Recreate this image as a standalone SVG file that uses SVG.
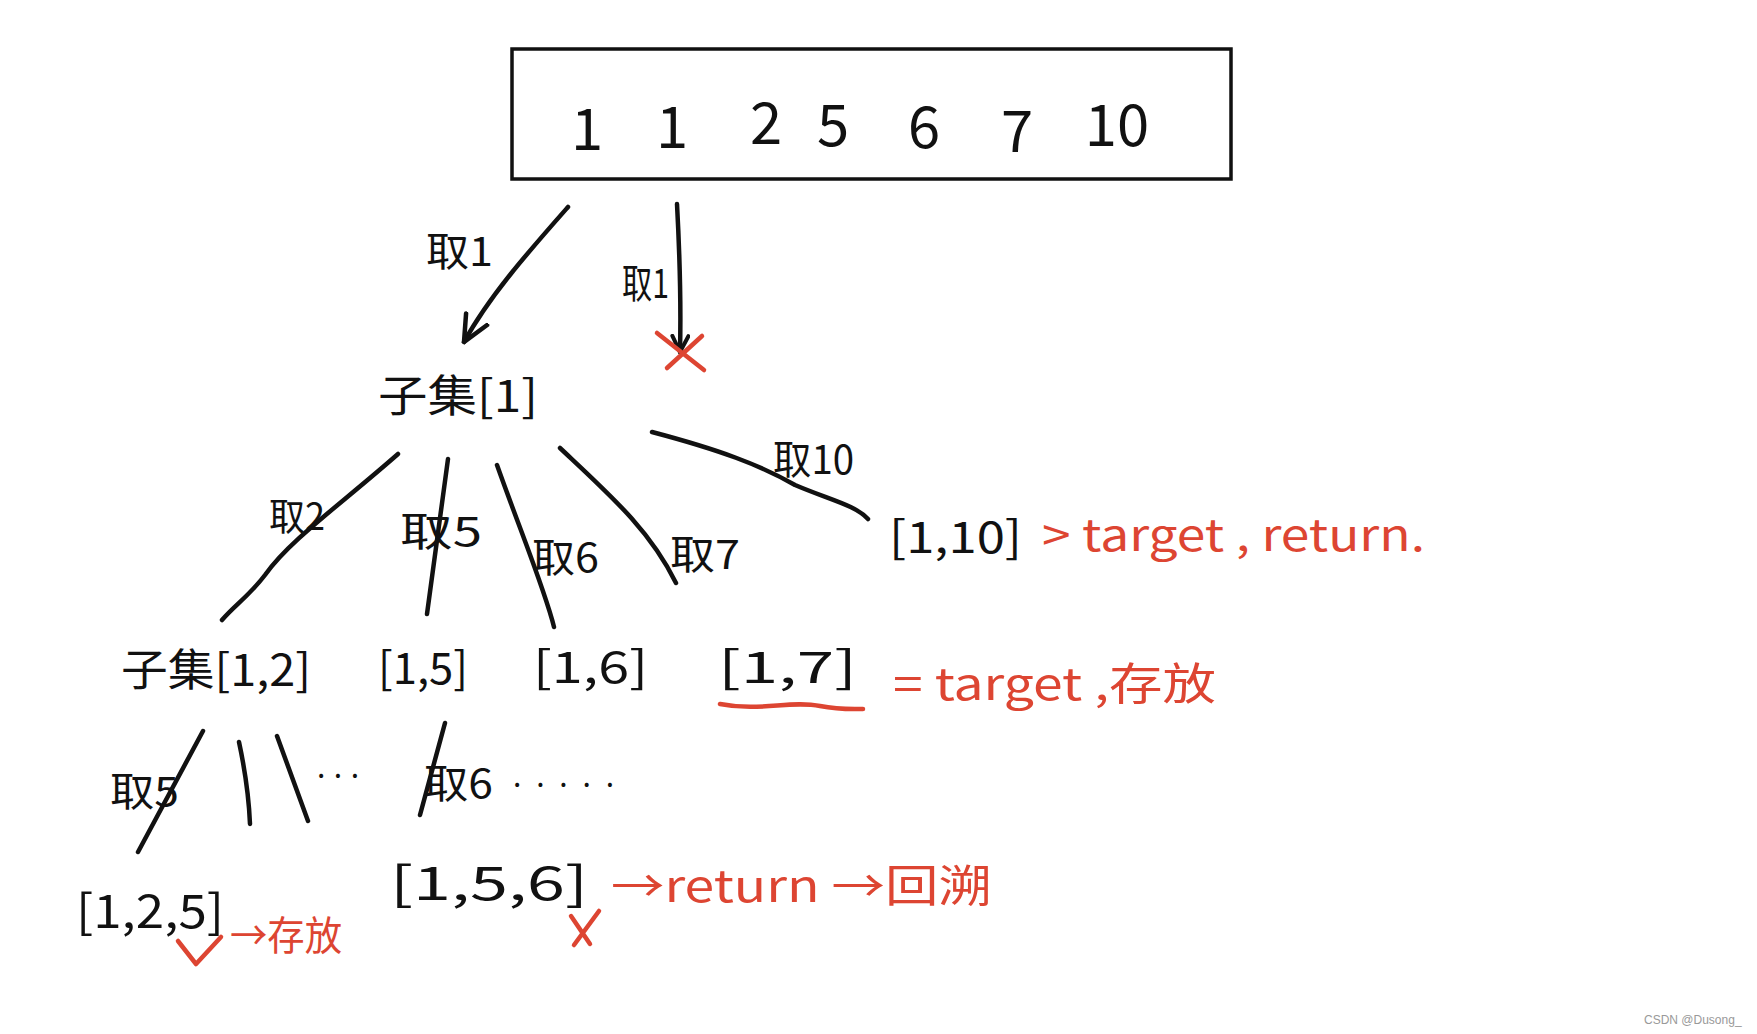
<svg xmlns="http://www.w3.org/2000/svg" width="1757" height="1034" viewBox="0 0 1757 1034">
<style>
.t{font-family:"Noto Sans CJK SC","Noto Sans",sans-serif;fill:#111;}
.r{font-family:"Noto Sans CJK SC","Noto Sans",sans-serif;fill:#dd4532;}
.ln{fill:none;stroke:#111;stroke-width:4.5;stroke-linecap:round;stroke-linejoin:round;}
.rl{fill:none;stroke:#dd4532;stroke-width:4.5;stroke-linecap:round;stroke-linejoin:round;}
.lab{font-size:40px;}
.nd{font-size:44px;}
</style>
<defs>
<marker id="ah" viewBox="0 0 20 20" refX="18" refY="10" markerWidth="20" markerHeight="20" markerUnits="userSpaceOnUse" orient="auto">
<path d="M2,2 L18,10 L2,18" fill="none" stroke="#111" stroke-width="4" stroke-linecap="round"/>
</marker>
<marker id="ah2" viewBox="0 0 30 30" refX="28" refY="15" markerWidth="30" markerHeight="30" markerUnits="userSpaceOnUse" orient="auto">
<path d="M2,3 L28,15 L2,27" fill="none" stroke="#111" stroke-width="4.5" stroke-linecap="round"/>
</marker>
</defs>
<rect width="1757" height="1034" fill="#fff"/>

<g id="array">
<rect x="512" y="49" width="719" height="130" fill="none" stroke="#111" stroke-width="3.5"/>
<g class="t" font-size="58" text-anchor="middle">
<text x="587" y="150">1</text>
<text x="672" y="148">1</text>
<text x="766" y="144">2</text>
<text x="833" y="146">5</text>
<text x="924" y="148">6</text>
<text x="1017" y="152">7</text>
<text x="1117" y="146">10</text>
</g>
</g>

<g id="connectors">
<path class="ln" d="M568,207 C530,250 490,295 464,342" marker-end="url(#ah2)"/>
<path class="ln" d="M677,204 C680,260 681,310 680,352" marker-end="url(#ah)"/>
<path class="ln" d="M398,454 C340,505 290,540 265,575 C250,595 235,605 222,620"/>
<path class="ln" d="M448,459 L427,614"/>
<path class="ln" d="M497,465 C520,530 545,590 554,627"/>
<path class="ln" d="M560,448 C610,495 650,530 676,583"/>
<path class="ln" d="M652,432 C720,450 760,465 795,485 C830,500 855,505 868,519"/>
<path class="ln" d="M203,731 L138,852"/>
<path class="ln" d="M239,742 C245,770 249,800 250,824"/>
<path class="ln" d="M277,736 L308,821"/>
<path class="ln" d="M445,723 L420,815"/>
</g>

<g id="labels">
<text class="t lab" x="426" y="266" textLength="67" lengthAdjust="spacingAndGlyphs">取1</text>
<text class="t lab" x="622" y="298" textLength="47" lengthAdjust="spacingAndGlyphs">取1</text>
<text class="t" font-size="38" x="269" y="530" textLength="56" lengthAdjust="spacingAndGlyphs">取2</text>
<text class="t lab" x="400" y="546" textLength="82" lengthAdjust="spacingAndGlyphs">取5</text>
<text class="t lab" x="532" y="572" textLength="67" lengthAdjust="spacingAndGlyphs">取6</text>
<text class="t lab" x="670" y="569" textLength="70" lengthAdjust="spacingAndGlyphs">取7</text>
<text class="t lab" x="773" y="474" textLength="81" lengthAdjust="spacingAndGlyphs">取10</text>
<text class="t lab" x="110" y="806" textLength="69" lengthAdjust="spacingAndGlyphs">取5</text>
<text class="t" font-size="30" x="317" y="778" textLength="42" lengthAdjust="spacing">...</text>
<text class="t lab" x="424" y="798" textLength="69" lengthAdjust="spacingAndGlyphs">取6</text>
<text class="t" font-size="30" x="513" y="787" textLength="101" lengthAdjust="spacing">.....</text>
</g>

<g id="mark-x1">
<path class="rl" d="M657,333 L704,370 M702,336 L667,368"/>
</g>

<g id="node-root">
<text class="t nd" x="378" y="412" textLength="160" lengthAdjust="spacingAndGlyphs">子集[1]</text>
</g>

<g id="node-12">
<text class="t nd" x="121" y="686" textLength="190" lengthAdjust="spacingAndGlyphs">子集[1,2]</text>
</g>
<g id="node-15">
<text class="t nd" x="378" y="684" textLength="90" lengthAdjust="spacingAndGlyphs">[1,5]</text>
</g>
<g id="node-16">
<text class="t nd" x="533" y="683" textLength="115" lengthAdjust="spacingAndGlyphs">[1,6]</text>
</g>
<g id="node-17">
<text class="t nd" x="718" y="683" textLength="139" lengthAdjust="spacingAndGlyphs">[1,7]</text>
<path class="rl" d="M720,704 C760,712 790,700 820,706 C840,710 855,709 863,709"/>
<text class="r nd" x="893" y="700" textLength="323" lengthAdjust="spacingAndGlyphs">= target ,存放</text>
</g>
<g id="node-110">
<text class="t nd" x="889" y="553" textLength="133" lengthAdjust="spacingAndGlyphs">[1,10]</text>
<text class="r nd" x="1042" y="551" textLength="383" lengthAdjust="spacingAndGlyphs">&gt; target , return.</text>
</g>

<g id="node-125">
<text class="t" font-size="46" x="76" y="928" textLength="148" lengthAdjust="spacingAndGlyphs">[1,2,5]</text>
<text class="r" font-size="40" x="230" y="950" textLength="112" lengthAdjust="spacingAndGlyphs">→存放</text>
<path class="rl" d="M178,941 L196,964 L221,937"/>
</g>

<g id="node-156">
<text class="t" font-size="46" x="390" y="900" textLength="198" lengthAdjust="spacingAndGlyphs">[1,5,6]</text>
<path class="rl" d="M571,916 L590,944 M599,911 L574,945"/>
<text class="r nd" x="611" y="902" textLength="381" lengthAdjust="spacingAndGlyphs">→return →回溯</text>
</g>

<text x="1644" y="1024" font-family="Liberation Sans, Arial, sans-serif" font-size="12" fill="#999">CSDN @Dusong_</text>
</svg>
